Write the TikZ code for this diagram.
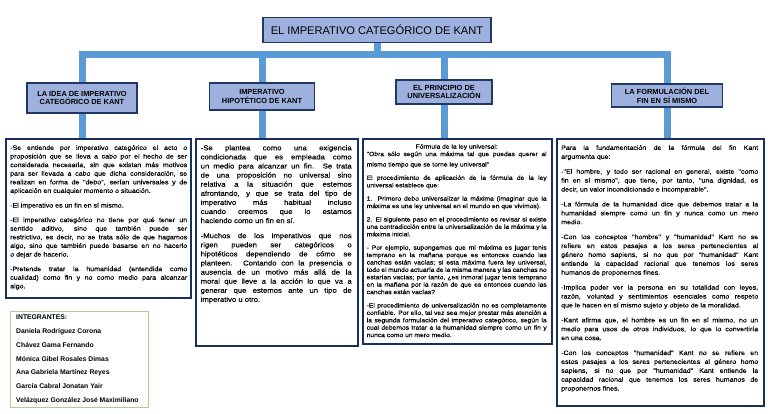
\documentclass[tikz,border=0pt]{standalone}
\usepackage{fontspec}
\setmainfont{Liberation Sans}
\newfontfamily\bodyfont{Liberation Sans}[FakeStretch=1.1, FakeBold=0.25]
\usetikzlibrary{calc,positioning}
\definecolor{headfill}{RGB}{157,176,222}
\definecolor{headdraw}{RGB}{31,56,100}
\definecolor{connblue}{RGB}{91,155,213}
\definecolor{boxdraw}{RGB}{23,47,90}
\definecolor{teamgreen}{RGB}{169,209,142}
\newcommand{\paragap}{\par\vspace{6pt}}
\tikzset{
  bar level/.store in=\BarLevel,
  body top/.store in=\BodyTop,
  bar level=54,
  body top=138,
  topic/.style={draw=headdraw, line width=1.4pt, fill=headfill, align=center, inner sep=1pt},
  head/.style={topic, font=\fontsize{7.4}{8.8}\selectfont\bfseries},
  bodybox/.style={draw=boxdraw, line width=1.9pt, fill=white, anchor=north west, inner sep=0pt},
  bodytext/.style={anchor=north west, inner sep=0pt, align=justify},
  conn/.style={draw=connblue, line width=7pt},
  team/.style={draw=teamgreen, line width=1.2pt, fill=white, anchor=north west, inner sep=0pt}
}

\begin{document}
\begin{tikzpicture}[x=1pt, y=-1pt]
  \useasboundingbox (0,0) rectangle (768,413);

  % title and headings
  \node[topic, minimum width=228pt, minimum height=25pt, font=\fontsize{11.1}{13}\selectfont] (title) at (377,30) {EL IMPERATIVO CATEGÓRICO DE KANT};
  \node[head, minimum width=110pt, minimum height=30pt] (head1) at (82,98) {LA IDEA DE IMPERATIVO\\CATEGÓRICO DE KANT};
  \node[head, minimum width=105pt, minimum height=27pt] (head2) at (262,96.5) {IMPERATIVO\\HIPOTÉTICO DE KANT};
  \node[head, minimum width=96pt, minimum height=24pt] (head3) at (444,92) {EL PRINCIPIO DE\\UNIVERSALIZACIÓN};
  \node[head, minimum width=111pt, minimum height=23pt] (head4) at (667,95.5) {LA FORMULACIÓN DEL\\FIN EN SÍ MISMO};

  % body boxes
  \node[bodybox, minimum width=185pt, minimum height=159pt] (body1) at (5,\BodyTop) {};
  \node[bodybox, minimum width=162pt, minimum height=207pt] (body2) at (195,\BodyTop) {};
  \node[bodybox, minimum width=189pt, minimum height=205pt] (body3) at (362,\BodyTop) {};
  \node[bodybox, minimum width=207pt, minimum height=267pt] (body4) at (556,\BodyTop) {};
  \node[team, minimum width=138pt, minimum height=96pt] (teambox) at (10,311) {};

  % connectors
  \coordinate (bar) at (0,\BarLevel);
  \draw[conn] (title.south) -- (title.south |- bar);
  \draw[conn, line cap=rect] (head1.north |- bar) -- (head4.north |- bar);
  \foreach \h/\b in {head1/body1, head2/body2, head3/body3, head4/body4} {
    \draw[conn] (\h.north) -- (\h.north |- bar);
    \draw[conn] (\h.south) -- (\h.south |- \b.north);
  }

  % texts of the boxes
  \node[bodytext, text width=177pt, font=\bodyfont\fontsize{6.4}{8.6}\selectfont] (text1) at ($(body1.north west)+(5,7)$) {%
    -Se entiende por imperativo categórico el acto o\linebreak
    proposición que se lleva a cabo por el hecho de ser\linebreak
    considerada necesaria, sin que existan más motivos\linebreak
    para ser llevada a cabo que dicha consideración, se\linebreak
    realizan en forma de "debo", serían universales y de\linebreak
    aplicación en cualquier momento o situación.
    \paragap
    -El imperativo es un fin en sí mismo.
    \paragap
    -El imperativo categórico no tiene por qué tener un\linebreak
    sentido aditivo, sino que también puede ser\linebreak
    restrictivo, es decir, no se trata sólo de que hagamos\linebreak
    algo, sino que también puede basarse en no hacerlo\linebreak
    o dejar de hacerlo.
    \paragap
    -Pretende tratar la humanidad (entendida como\linebreak
    cualidad) como fin y no como medio para alcanzar\linebreak
    algo.};

  \node[bodytext, text width=151pt, font=\bodyfont\fontsize{7}{9.1}\selectfont] (text2) at ($(body2.north west)+(5.5,7)$) {%
    -Se plantea como una exigencia\linebreak
    condicionada que es empleada como\linebreak
    un medio para alcanzar un fin. Se trata\linebreak
    de una proposición no universal sino\linebreak
    relativa a la situación que estemos\linebreak
    afrontando, y que se trata del tipo de\linebreak
    imperativo más habitual incluso\linebreak
    cuando creemos que lo estamos\linebreak
    haciendo como un fin en sí.
    \paragap
    -Muchos de los imperativos que nos\linebreak
    rigen pueden ser categóricos o\linebreak
    hipotéticos dependiendo de cómo se\linebreak
    planteen. Contando con la presencia o\linebreak
    ausencia de un motivo más allá de la\linebreak
    moral que lleve a la acción lo que va a\linebreak
    generar que estemos ante un tipo de\linebreak
    imperativo u otro.};

  \node[bodytext, text width=180pt, font=\bodyfont\fontsize{6.1}{7.4}\selectfont] (text3) at ($(body3.north west)+(4.5,6)$) {%
    \centerline{Fórmula de la ley universal:}
    \vspace{3pt}
    "Obra sólo según una máxima tal que puedas querer al\linebreak
    mismo tiempo que se torne ley universal"
    \paragap
    El procedimiento de aplicación de la fórmula de la ley\linebreak
    universal establece que:
    \paragap
    1. Primero debo universalizar la máxima (imaginar que la\linebreak
    máxima es una ley universal en el mundo en que vivimos).
    \paragap
    2. El siguiente paso en el procedimiento es revisar si existe\linebreak
    una contradicción entre la universalización de la máxima y la\linebreak
    máxima inicial.
    \paragap
    - Por ejemplo, supongamos que mi máxima es jugar tenis\linebreak
    temprano en la mañana porque es entonces cuando las\linebreak
    canchas están vacías; si esta máxima fuera ley universal,\linebreak
    todo el mundo actuaría de la misma manera y las canchas no\linebreak
    estarían vacías; por tanto, ¿es inmoral jugar tenis temprano\linebreak
    en la mañana por la razón de que es entonces cuando las\linebreak
    canchas están vacías?
    \paragap
    -El procedimiento de universalización no es completamente\linebreak
    confiable. Por ello, tal vez sea mejor prestar más atención a\linebreak
    la segunda formulación del imperativo categórico, según la\linebreak
    cual debemos tratar a la humanidad siempre como un fin y\linebreak
    nunca como un mero medio.};

  \node[bodytext, text width=197pt, font=\bodyfont\fontsize{6.4}{8.9}\selectfont] (text4) at ($(body4.north west)+(5,7)$) {%
    Para la fundamentación de la fórmula del fin Kant\linebreak
    argumenta que:
    \paragap
    -"El hombre, y todo ser racional en general, existe "como\linebreak
    fin en sí mismo", que tiene, por tanto, "una dignidad, es\linebreak
    decir, un valor incondicionado e incomparable".
    \paragap
    -La fórmula de la humanidad dice que debemos tratar a la\linebreak
    humanidad siempre como un fin y nunca como un mero\linebreak
    medio.
    \paragap
    -Con los conceptos "hombre" y "humanidad" Kant no se\linebreak
    refiere en estos pasajes a los seres pertenecientes al\linebreak
    género homo sapiens, si no que por "humanidad" Kant\linebreak
    entiende la capacidad racional que tenemos los seres\linebreak
    humanos de proponernos fines.
    \paragap
    -Implica poder ver la persona en su totalidad con leyes,\linebreak
    razón, voluntad y sentimientos esenciales como respeto\linebreak
    que le hacen en sí mismo sujeto y objeto de la moralidad.
    \paragap
    -Kant afirma que, el hombre es un fin en sí mismo, no un\linebreak
    medio para usos de otros individuos, lo que lo convertiría\linebreak
    en una cosa.
    \paragap
    -Con los conceptos "humanidad" Kant no se refiere en\linebreak
    estos pasajes a los seres pertenecientes al género homo\linebreak
    sapiens, si no que por "humanidad" Kant entiende la\linebreak
    capacidad racional que tenemos los seres humanos de\linebreak
    proponernos fines.};

  % team members
  \node[anchor=north west, inner sep=0pt, align=left, font=\fontsize{6.8}{13.7}\selectfont\bfseries] (members) at ($(teambox.north west)+(6,4)$) {%
    INTEGRANTES:\\
    Daniela Rodríguez Corona\\
    Chávez Gama Fernando\\
    Mónica Gibel Rosales Dimas\\
    Ana Gabriela Martínez Reyes\\
    García Cabral Jonatan Yair\\
    Velázquez González José Maximiliano};

\end{tikzpicture}
\end{document}
